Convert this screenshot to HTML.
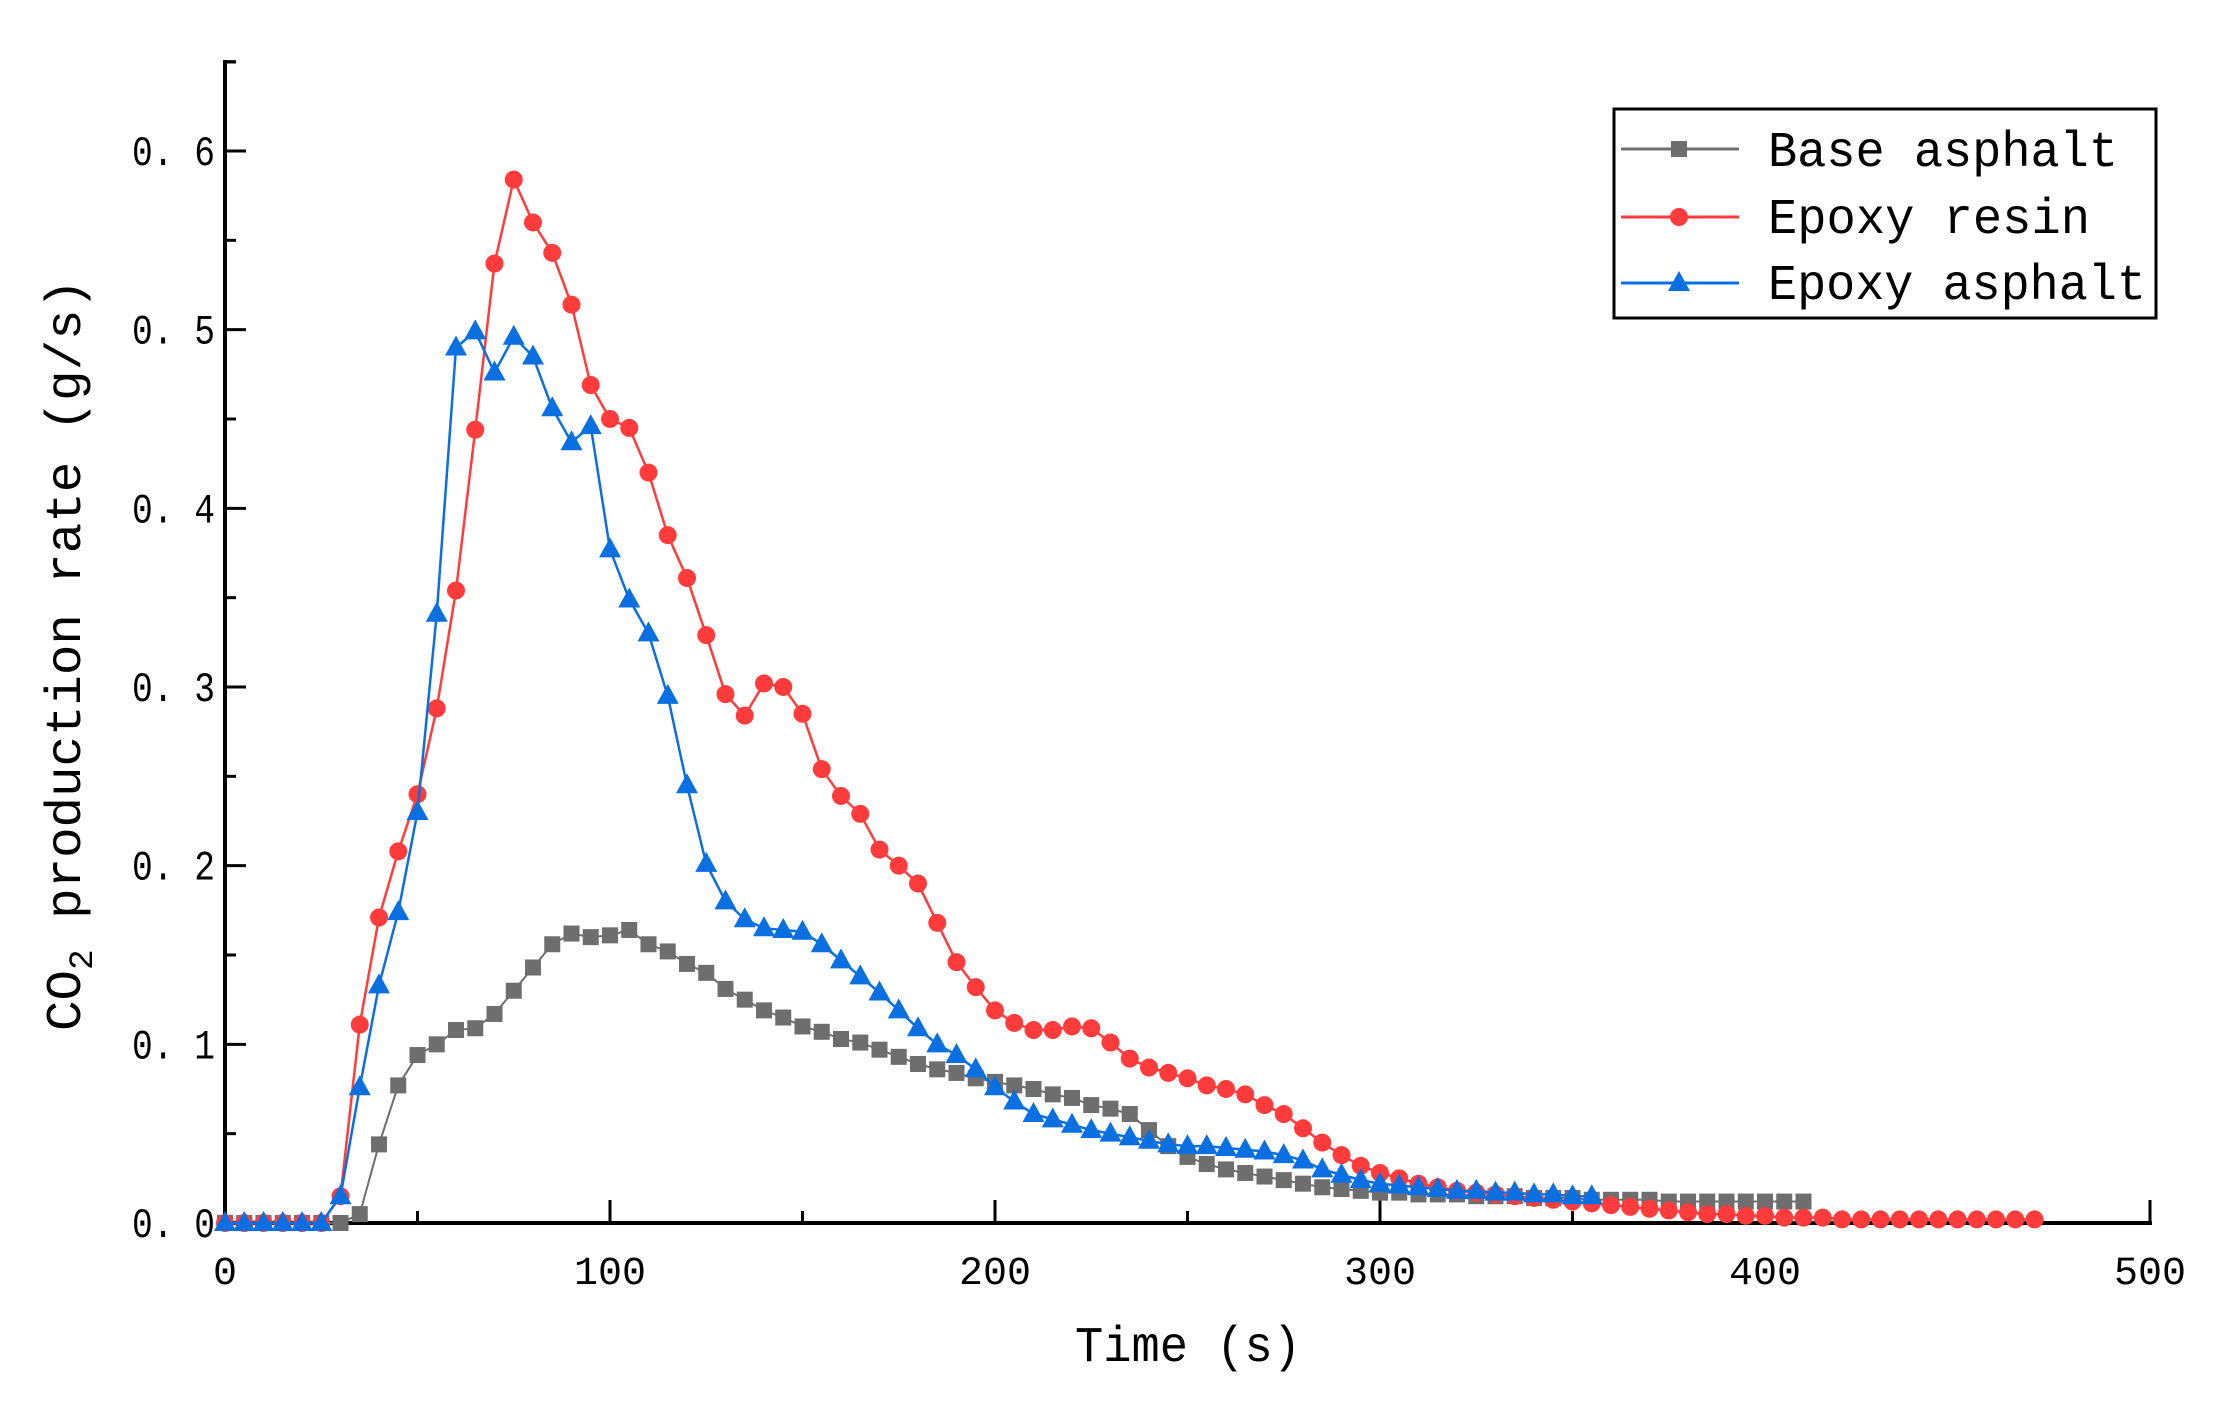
<!DOCTYPE html>
<html><head><meta charset="utf-8"><style>body{margin:0;background:#fff}svg{display:block}</style></head>
<body>
<svg id="s" width="2233" height="1401" xmlns="http://www.w3.org/2000/svg" font-family="Liberation Mono, monospace">
<rect width="2233" height="1401" fill="#fff"/>
<g id="ax"></g>
<g id="data"></g>
<g id="yl" font-size="42" text-anchor="end" fill="#000"></g>
<g id="xl" font-size="40" text-anchor="middle" fill="#000"></g>
<text x="1188" y="1361" font-size="50" text-anchor="middle" textLength="226" lengthAdjust="spacingAndGlyphs">Time (s)</text>
<text transform="translate(80,655) rotate(-90)" font-size="50" text-anchor="middle" textLength="752" lengthAdjust="spacingAndGlyphs">CO<tspan font-size="34" dy="12">2</tspan><tspan dy="-12"> production rate (g/s)</tspan></text>
<rect x="1614" y="109" width="542" height="209" fill="#fff" stroke="#000" stroke-width="3"/>
<g font-size="50" fill="#000">
<text x="1768" y="166" textLength="350" lengthAdjust="spacingAndGlyphs">Base asphalt</text>
<text x="1768" y="233" textLength="322" lengthAdjust="spacingAndGlyphs">Epoxy resin</text>
<text x="1768" y="299" textLength="378" lengthAdjust="spacingAndGlyphs">Epoxy asphalt</text>
</g>
<g id="leg"></g>
</svg>
<script>
const NS="http://www.w3.org/2000/svg";
function el(p,t,a,txt){const e=document.createElementNS(NS,t);for(const k in a)e.setAttribute(k,a[k]);if(txt!==undefined)e.textContent=txt;p.appendChild(e);return e;}
const X=t=>225+t*3.85, Y=v=>1223-v*1786.7;
const ax=document.getElementById('ax');
el(ax,'line',{x1:225,y1:1223,x2:2152,y2:1223,stroke:'#000','stroke-width':4});
el(ax,'line',{x1:225,y1:60,x2:225,y2:1225,stroke:'#000','stroke-width':4});
for(let i=0;i<=10;i++){const x=X(i*50);el(ax,'line',{x1:x,y1:1223,x2:x,y2:i%2?1211:1200,stroke:'#000','stroke-width':3});}
for(let i=0;i<=13;i++){const y=Y(i*0.05);el(ax,'line',{x1:225,y1:y,x2:i%2?236:246,y2:y,stroke:'#000','stroke-width':3});}
el(ax,'line',{x1:225,y1:62,x2:236,y2:62,stroke:'#000','stroke-width':3});
const yl=document.getElementById('yl');
for(let i=0;i<=6;i++)el(yl,'text',{x:215,y:Y(i*0.1)+14,textLength:83,lengthAdjust:'spacingAndGlyphs'},'0. '+i);
const xl=document.getElementById('xl');
for(let i=0;i<=5;i++)el(xl,'text',{x:X(i*100),y:1284},String(i*100));
const gray=[0,0,0,0,0,0,0,.005,.044,.077,.094,.1,.108,.109,.117,.13,.143,.156,.162,.16,.161,.164,.156,.152,.145,.14,.131,.125,.119,.115,.11,.107,.103,.101,.097,.093,.089,.086,.084,.081,.079,.077,.075,.072,.07,.066,.064,.061,.052,.043,.037,.033,.03,.028,.026,.024,.022,.02,.019,.018,.017,.017,.016,.016,.016,.015,.015,.015,.014,.014,.014,.013,.013,.013,.013,.012,.012,.012,.012,.012,.012,.012,.012];
const red=[0,0,0,0,0,0,.015,.111,.171,.208,.24,.288,.354,.444,.537,.584,.56,.543,.514,.469,.45,.445,.42,.385,.361,.329,.296,.284,.302,.3,.285,.254,.239,.229,.209,.2,.19,.168,.146,.132,.119,.112,.108,.108,.11,.109,.101,.092,.087,.084,.081,.077,.075,.072,.066,.061,.053,.045,.038,.032,.028,.025,.022,.02,.018,.017,.016,.015,.014,.013,.012,.011,.01,.009,.008,.007,.006,.005,.005,.004,.004,.003,.003,.003,.002,.002,.002,.002,.002,.002,.002,.002,.002,.002,.002];
const blue=[0,0,0,0,0,0,.015,.076,.133,.174,.23,.341,.49,.499,.476,.496,.485,.456,.437,.446,.377,.349,.33,.295,.245,.201,.18,.17,.165,.164,.163,.156,.147,.138,.129,.119,.109,.1,.094,.086,.076,.068,.061,.058,.055,.052,.05,.048,.046,.044,.043,.043,.042,.041,.04,.038,.035,.03,.027,.024,.022,.021,.02,.019,.018,.018,.017,.017,.016,.016,.015,.015];
const d=document.getElementById('data');
function marker(g,type,x,y,c){
 if(type==='s')el(g,'rect',{x:x-8,y:y-8,width:16,height:16,fill:c});
 else if(type==='c')el(g,'circle',{cx:x,cy:y,r:9,fill:c});
 else el(g,'polygon',{points:`${x},${y-12} ${x-11},${y+8} ${x+11},${y+8}`,fill:c});
}
function series(arr,c,type,w){
 const pts=arr.map((v,i)=>[X(i*5),Y(v)]);
 el(d,'polyline',{points:pts.map(p=>p.join(',')).join(' '),fill:'none',stroke:c,'stroke-width':w});
 pts.forEach(p=>marker(d,type,p[0],p[1],c));
}
series(gray,'#6e6e6e','s',2);
series(red,'#ff3b3b','c',2.5);
series(blue,'#0a6fe0','t',2.5);
const lg=document.getElementById('leg');
[[149,'#6e6e6e','s'],[217,'#ff3b3b','c'],[283,'#0a6fe0','t']].forEach(([y,c,t])=>{el(lg,'line',{x1:1621,y1:y,x2:1739,y2:y,stroke:c,'stroke-width':3});marker(lg,t,1679,y,c);});
</script>
</body></html>
